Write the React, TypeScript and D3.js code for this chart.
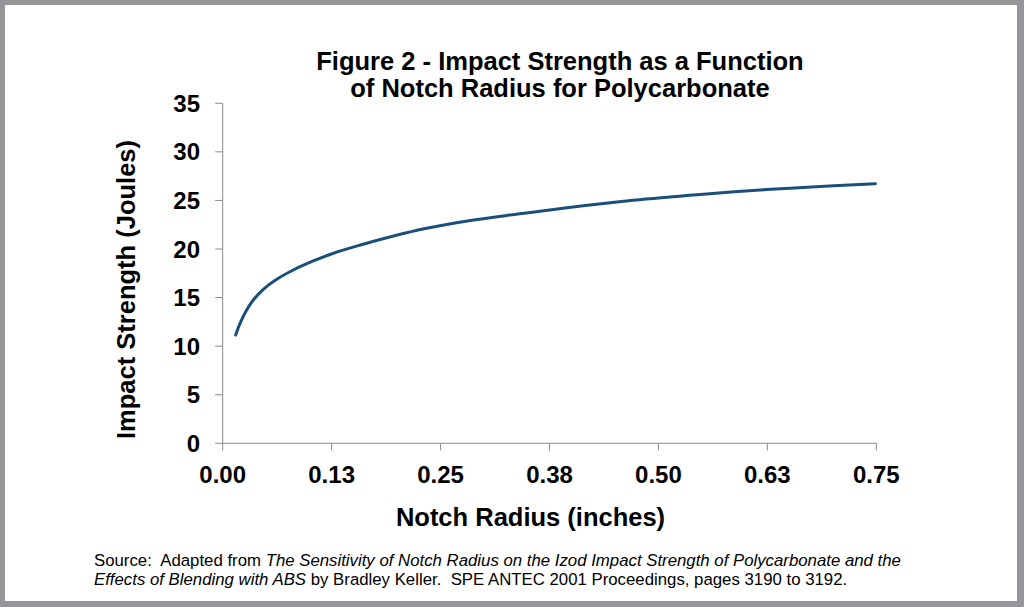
import React from 'react';
import * as d3 from 'd3';

// Notch radius (inches) vs. Izod impact strength (J) for polycarbonate
const notchRadius = [
  0.0149, 0.0199, 0.0275, 0.0351, 0.0466, 0.062, 0.081, 0.104, 0.127, 0.158,
  0.196, 0.234, 0.288, 0.341, 0.395, 0.471, 0.548, 0.624, 0.701, 0.749,
];
const impactStrength = [
  11.15, 12.35, 13.72, 14.75, 15.85, 16.88, 17.84, 18.77, 19.56, 20.41,
  21.34, 22.13, 22.99, 23.62, 24.25, 25.02, 25.62, 26.12, 26.5, 26.73,
];

const xTicks = [0, 0.125, 0.25, 0.375, 0.5, 0.625, 0.75];
const xTickLabels = ['0.00', '0.13', '0.25', '0.38', '0.50', '0.63', '0.75'];
const yTicks = [0, 5, 10, 15, 20, 25, 30, 35];

const titleLines = ['Figure 2 - Impact Strength as a Function', 'of Notch Radius for Polycarbonate'];

const width = 1024;
const height = 607;
const font = '"Liberation Sans", Arial, Helvetica, sans-serif';
const axisColor = '#8a8a8a';
const lineColor = '#1b4f7b';

type Point = { x: number; y: number };

const App: React.FC = () => {
  const margin = { left: 222.7, right: width - 876.3, top: 103.3, bottom: height - 443.3 };
  const x = d3.scaleLinear().domain([0, 0.75]).range([margin.left, width - margin.right]);
  const y = d3.scaleLinear().domain([0, 35]).range([height - margin.bottom, margin.top]);

  const points: Point[] = notchRadius.map((r, i) => ({ x: r, y: impactStrength[i] }));
  const line = d3
    .line<Point>()
    .x(d => x(d.x))
    .y(d => y(d.y))
    .curve(d3.curveCatmullRom.alpha(0.5));

  const x0 = x(0);
  const y0 = y(0);

  return (
    <div style={{ position: 'fixed', left: 0, top: 0, width, height, background: '#ffffff' }}>
      <svg width={width} height={height} viewBox={`0 0 ${width} ${height}`} style={{ display: 'block' }}>
        <rect x={0} y={0} width={width} height={height} fill="#96969a" />
        <rect x={5} y={5} width={width - 12} height={height - 11} fill="#ffffff" />

        {titleLines.map((t, i) => (
          <text
            key={t}
            x={560}
            y={69.5 + i * 27}
            textAnchor="middle"
            fontFamily={font}
            fontWeight="bold"
            fontSize={25.5}
            fill="#000"
          >
            {t}
          </text>
        ))}

        {/* y axis */}
        <line x1={x0} x2={x0} y1={y(35)} y2={y0} stroke={axisColor} strokeWidth={1} />
        {yTicks.map(t => (
          <g key={`y${t}`}>
            <line x1={x0 - 7.5} x2={x0} y1={y(t)} y2={y(t)} stroke={axisColor} strokeWidth={1} />
            <text
              x={200}
              y={y(t) + 8.6}
              textAnchor="end"
              fontFamily={font}
              fontWeight="bold"
              fontSize={24}
              fill="#000"
            >
              {t}
            </text>
          </g>
        ))}

        {/* x axis */}
        <line x1={x0} x2={x(0.75)} y1={y0} y2={y0} stroke={axisColor} strokeWidth={1} />
        {xTicks.map((t, i) => (
          <g key={`x${t}`}>
            <line x1={x(t)} x2={x(t)} y1={y0} y2={y0 + 7} stroke={axisColor} strokeWidth={1} />
            <text
              x={x(t)}
              y={482.6}
              textAnchor="middle"
              fontFamily={font}
              fontWeight="bold"
              fontSize={24}
              fill="#000"
            >
              {xTickLabels[i]}
            </text>
          </g>
        ))}

        <path d={line(points) ?? ''} fill="none" stroke={lineColor} strokeWidth={3} strokeLinecap="round" />

        <text
          x={530.5}
          y={526}
          textAnchor="middle"
          fontFamily={font}
          fontWeight="bold"
          fontSize={25.5}
          fill="#000"
        >
          Notch Radius (inches)
        </text>
        <text
          transform="translate(134.5,289.5) rotate(-90)"
          textAnchor="middle"
          fontFamily={font}
          fontWeight="bold"
          fontSize={25.5}
          fill="#000"
        >
          Impact Strength (Joules)
        </text>

        <text x={94} y={565.5} fontFamily={font} fontSize={16.8} fill="#000" style={{ whiteSpace: 'pre' }}>
          <tspan>{'Source:  Adapted from '}</tspan>
          <tspan fontStyle="italic">
            The Sensitivity of Notch Radius on the Izod Impact Strength of Polycarbonate and the
          </tspan>
        </text>
        <text x={94} y={584.5} fontFamily={font} fontSize={16.8} fill="#000" style={{ whiteSpace: 'pre' }}>
          <tspan fontStyle="italic">Effects of Blending with ABS</tspan>
          <tspan>{' by Bradley Keller.  SPE ANTEC 2001 Proceedings, pages 3190 to 3192.'}</tspan>
        </text>
      </svg>
    </div>
  );
};

export default App;
